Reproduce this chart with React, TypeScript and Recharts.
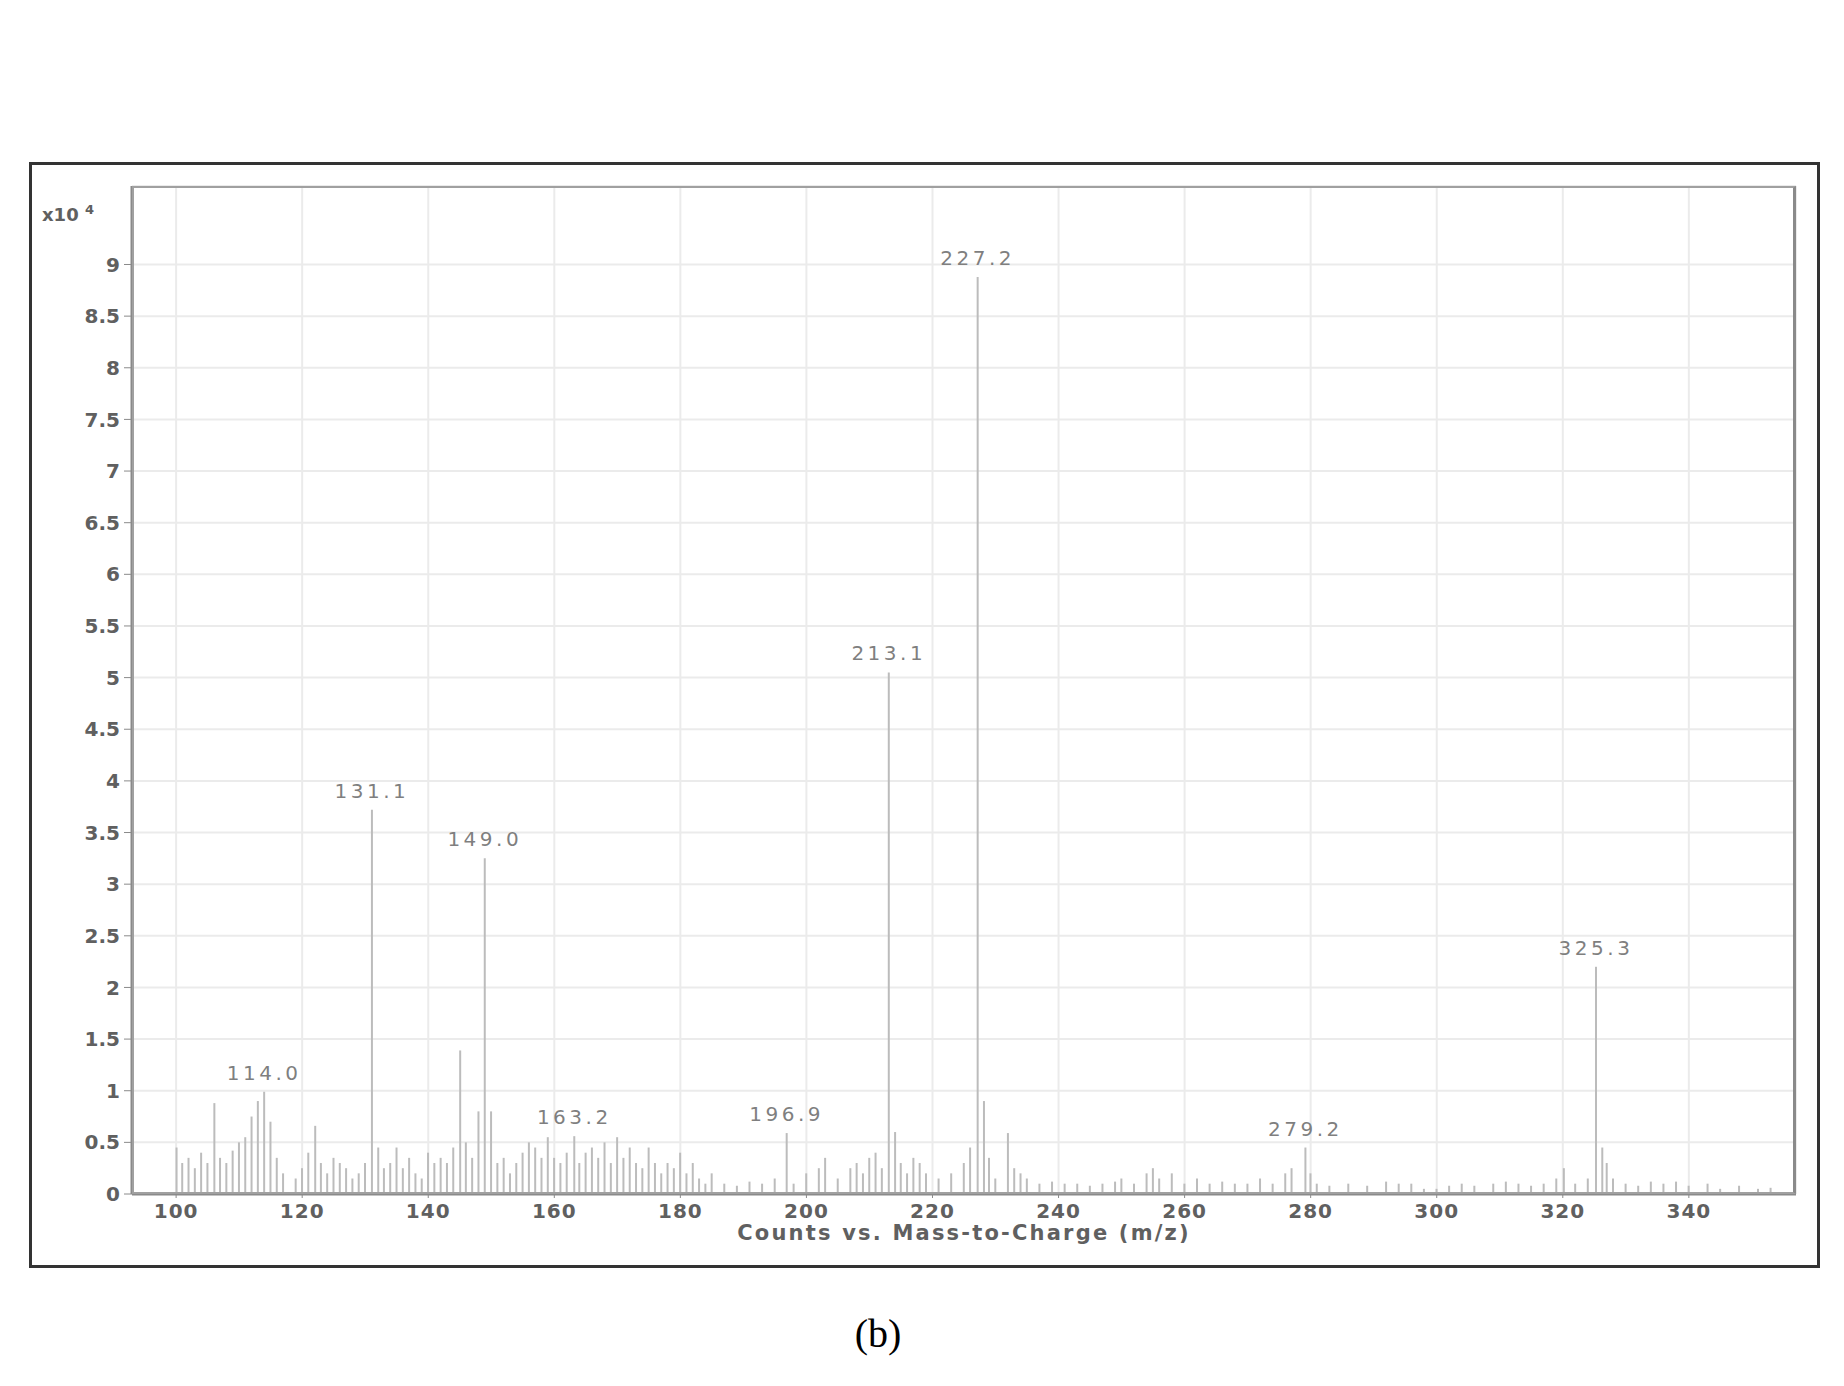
import React from "react";
import {
  BarChart,
  Bar,
  XAxis,
  YAxis,
  CartesianGrid,
  LabelList,
} from "recharts";

// m/z positions of the sticks and their counts (x10^4)
const mzValues = [
  100.1, 101, 102, 103, 104, 105, 106.1, 107, 108, 109, 110, 111, 112, 113, 114.0,
  115, 116, 117, 119, 120, 121, 122.1, 123, 124, 125, 126, 127, 128, 129, 130,
  131.1, 132.1, 133, 134, 135, 136, 137, 138, 139, 140, 141, 142, 143, 144, 145.1,
  146, 147, 148, 149.0, 150, 151, 152, 153, 154, 155, 156, 157, 158, 159, 160,
  161, 162, 163.2, 164, 165, 166, 167, 168, 169, 170, 171, 172, 173, 174, 175,
  176, 177, 178, 179, 180, 181, 182, 183, 184, 185, 187, 189, 191, 193, 195,
  196.9, 198, 200, 202, 203, 205, 207, 208, 209, 210, 211, 212, 213.1, 214.1, 215,
  216, 217, 218, 219, 221, 223, 225, 226, 227.2, 228.2, 229, 230, 232, 233, 234,
  235, 237, 239, 241, 243, 245, 247, 249, 250, 252, 254, 255, 256, 258, 260,
  262, 264, 266, 268, 270, 272, 274, 276, 277, 279.2, 280, 281, 283, 286, 289,
  292, 294, 296, 298, 300, 302, 304, 306, 309, 311, 313, 315, 317, 319, 320.2,
  322, 324, 325.3, 326.3, 327, 328, 330, 332, 334, 336, 338, 340, 343, 345, 348,
  351, 353,
];

const counts = [
  0.45, 0.3, 0.35, 0.25, 0.4, 0.3, 0.88, 0.35, 0.3, 0.42, 0.5, 0.55, 0.75, 0.9, 0.99,
  0.7, 0.35, 0.2, 0.15, 0.25, 0.4, 0.66, 0.3, 0.2, 0.35, 0.3, 0.25, 0.15, 0.2, 0.3,
  3.72, 0.45, 0.25, 0.3, 0.45, 0.25, 0.35, 0.2, 0.15, 0.4, 0.3, 0.35, 0.3, 0.45, 1.39,
  0.5, 0.35, 0.8, 3.25, 0.8, 0.3, 0.35, 0.2, 0.3, 0.4, 0.5, 0.45, 0.35, 0.55, 0.35,
  0.3, 0.4, 0.56, 0.3, 0.4, 0.45, 0.35, 0.5, 0.3, 0.55, 0.35, 0.45, 0.3, 0.25, 0.45,
  0.3, 0.2, 0.3, 0.25, 0.4, 0.2, 0.3, 0.15, 0.1, 0.2, 0.1, 0.08, 0.12, 0.1, 0.15,
  0.59, 0.1, 0.2, 0.25, 0.35, 0.15, 0.25, 0.3, 0.2, 0.35, 0.4, 0.25, 5.05, 0.6, 0.3,
  0.2, 0.35, 0.3, 0.2, 0.15, 0.2, 0.3, 0.45, 8.88, 0.9, 0.35, 0.15, 0.59, 0.25, 0.2,
  0.15, 0.1, 0.12, 0.1, 0.1, 0.08, 0.1, 0.12, 0.15, 0.1, 0.2, 0.25, 0.15, 0.2, 0.1,
  0.15, 0.1, 0.12, 0.1, 0.1, 0.15, 0.1, 0.2, 0.25, 0.45, 0.2, 0.1, 0.08, 0.1, 0.08,
  0.12, 0.1, 0.1, 0.05, 0.05, 0.08, 0.1, 0.08, 0.1, 0.12, 0.1, 0.08, 0.1, 0.15, 0.25,
  0.1, 0.15, 2.2, 0.45, 0.3, 0.15, 0.1, 0.08, 0.12, 0.1, 0.12, 0.08, 0.1, 0.05, 0.08,
  0.05, 0.06,
];

const labeledPeaks = ["114.0", "131.1", "149.0", "163.2", "196.9", "213.1", "227.2", "279.2", "325.3"];

const xTicks = [100, 120, 140, 160, 180, 200, 220, 240, 260, 280, 300, 320, 340];
const yTicks = [0, 0.5, 1, 1.5, 2, 2.5, 3, 3.5, 4, 4.5, 5, 5.5, 6, 6.5, 7, 7.5, 8, 8.5, 9];

const data = mzValues.map((mz, i) => {
  const txt = mz.toFixed(1);
  return {
    mz,
    count: counts[i],
    label: labeledPeaks.includes(txt) ? txt : undefined,
  };
});

const tickStyle = {
  fontFamily: "DejaVu Sans",
  fontSize: 20,
  fontWeight: "bold" as const,
  fill: "#606060",
  letterSpacing: 1,
};

const PeakLabel = (props: any) => {
  const { x, y, width, value } = props;
  if (!value) return null;
  return (
    <text
      x={x + width / 2}
      y={y - 12}
      textAnchor="middle"
      fontFamily="DejaVu Sans"
      fontSize={20}
      letterSpacing={3.5}
      fill="#7f7f7f"
    >
      {value}
    </text>
  );
};

export default function App() {
  return (
    <div style={{ position: "absolute", left: 0, top: 0, width: 1844, height: 1386, background: "#fff" }}>
      <div
        style={{
          position: "absolute",
          left: 29,
          top: 162,
          width: 1791,
          height: 1106,
          border: "3px solid #333",
          boxSizing: "border-box",
        }}
      />
      <div style={{ position: "absolute", left: 29, top: 162 }}>
        <BarChart
          width={1791}
          height={1106}
          data={data}
          margin={{ top: 24, right: 24, left: 0, bottom: 0 }}
        >
          <CartesianGrid stroke="#ebebeb" strokeWidth={2} />
          <XAxis
            dataKey="mz"
            type="number"
            domain={[93, 357]}
            ticks={xTicks}
            allowDataOverflow
            height={74}
            tick={tickStyle}
            tickSize={4}
            tickMargin={6}
            stroke="#8a8a8a"
            axisLine={{ stroke: "#8a8a8a", strokeWidth: 3 }}
            label={{
              value: "Counts vs. Mass-to-Charge (m/z)",
              position: "insideBottom",
              offset: 28,
              style: { ...tickStyle, fontSize: 21, letterSpacing: 2.2 },
            }}
          />
          <YAxis
            type="number"
            domain={[0, 9.76]}
            ticks={yTicks}
            allowDataOverflow
            width={103}
            tick={{ ...tickStyle, letterSpacing: 0 }}
            tickSize={8}
            tickMargin={4}
            stroke="#8a8a8a"
            axisLine={{ stroke: "#8a8a8a", strokeWidth: 3 }}
          />
          <Bar dataKey="count" fill="#bcbcbc" barSize={2} isAnimationActive={false}>
            <LabelList dataKey="label" content={PeakLabel} />
          </Bar>
        </BarChart>
      </div>
      <div
        style={{
          position: "absolute",
          left: 132,
          top: 186,
          width: 1664,
          height: 1008,
          border: "2px solid #a0a0a0",
          borderRight: "3px solid #8a8a8a",
          boxSizing: "border-box",
          pointerEvents: "none",
        }}
      />
      <div
        style={{
          position: "absolute",
          left: 42,
          top: 202,
          fontFamily: "DejaVu Sans",
          fontSize: 18,
          fontWeight: "bold",
          color: "#606060",
        }}
      >
        x10 <sup style={{ fontSize: 13 }}>4</sup>
      </div>
      <div
        style={{
          position: "absolute",
          left: 0,
          width: 1756,
          top: 1310,
          textAlign: "center",
          fontFamily: "Liberation Serif",
          fontSize: 40,
          color: "#000",
        }}
      >
        (b)
      </div>
    </div>
  );
}
